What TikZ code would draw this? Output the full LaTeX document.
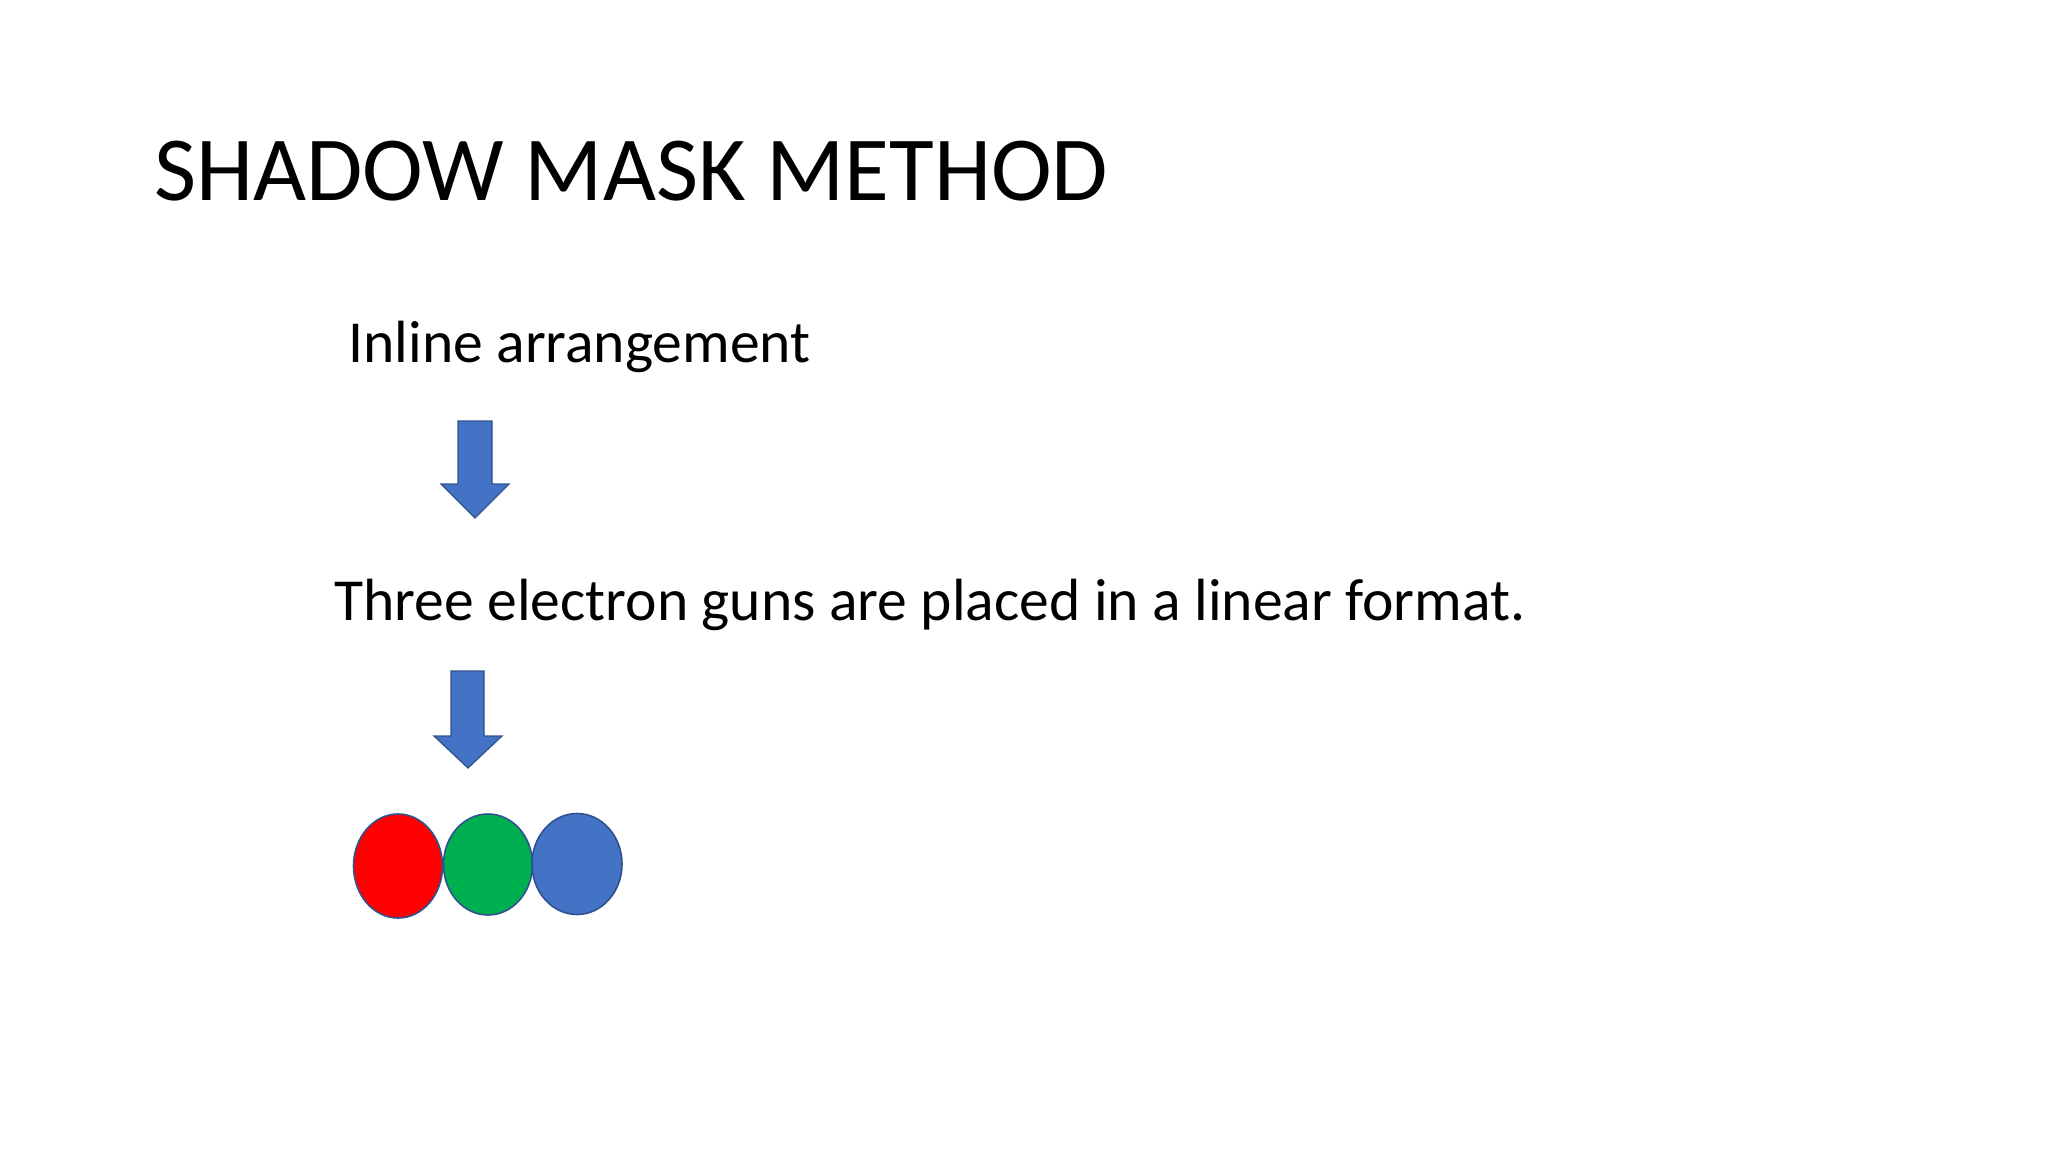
\documentclass[tikz,border=0pt]{standalone}
\usepackage{fontspec}
\setmainfont{Carlito}
\usetikzlibrary{shapes.geometric, positioning}

\definecolor{gunred}{HTML}{FF0000}
\definecolor{gungreen}{HTML}{00B050}
\definecolor{gunblue}{HTML}{4472C4}
\definecolor{edgeblue}{HTML}{2F528F}

\tikzset{
  heading/.style={anchor=base west, inner sep=0pt, font=\fontsize{45.8}{54}\selectfont},
  body/.style={anchor=base west, inner sep=0pt, font=\fontsize{29.8}{35}\selectfont},
  blockarrow/.style={fill=gunblue, draw=edgeblue, line width=0.6pt, line join=miter},
  gun/.style={ellipse, draw=edgeblue, line width=0.8pt, inner sep=0pt,
    minimum width=44.5pt, minimum height=50.5pt}
}

\begin{document}
\begin{tikzpicture}[x=0.5pt, y=-0.5pt]
  \useasboundingbox (0,0) rectangle (2048,1152);

  \node (title) [heading] at (154,200) {SHADOW MASK METHOD};
  \node (inline) [body] at (348,362) {Inline arrangement};
  \node (three) [body] at (334,620) {Three electron guns are placed in a linear format.};

  % block arrows
  \draw [blockarrow] (458,421) -- (492,421) -- (492,484) -- (509,484)
    -- (475,518) -- (441,484) -- (458,484) -- cycle;
  \draw [blockarrow] (451,671) -- (484,671) -- (484,736) -- (502,736)
    -- (468,768) -- (434,736) -- (451,736) -- cycle;

  % the three guns
  \node (red) [gun, fill=gunred, minimum height=52pt] at (398,866) {};
  \node (green) [gun, fill=gungreen] at (488,864.5) {};
  \node (blue) [gun, fill=gunblue, minimum width=45pt] at (577,864) {};
\end{tikzpicture}
\end{document}
